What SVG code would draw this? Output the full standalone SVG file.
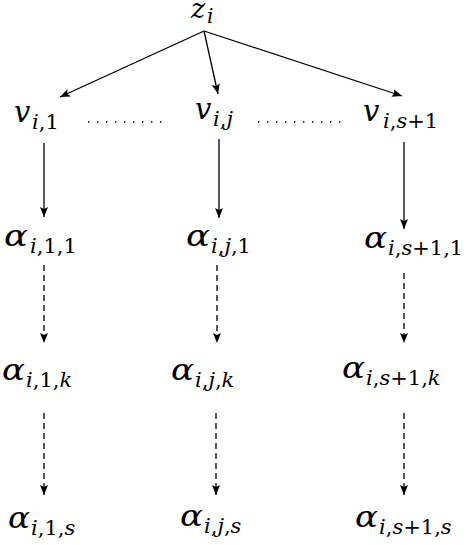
<svg xmlns="http://www.w3.org/2000/svg" width="474" height="545" viewBox="0 0 474 545">
<defs>
<style>
.c{stroke:#000;stroke-width:1.3;fill:none}
.d{stroke-dasharray:6 4}
.dots{stroke:#000;stroke-width:1.4;stroke-dasharray:1.4 7.6;fill:none}
</style>
<marker id="ah" viewBox="0 0 10 8" refX="10" refY="4" markerWidth="10" markerHeight="8" markerUnits="userSpaceOnUse" orient="auto">
<path d="M0,0 L10,4 L0,8 L2,4 Z" fill="#000" stroke="none"/>
</marker>
</defs>
<rect width="474" height="545" fill="#fff"/>
<g id="connectors">
<path class="c" d="M204,31 L60,97" marker-end="url(#ah)"/>
<path class="c" d="M204,31 L218,94" marker-end="url(#ah)"/>
<path class="c" d="M204,31 L402,96" marker-end="url(#ah)"/>
<path class="c" d="M44,143 L44,217" marker-end="url(#ah)"/>
<path class="c" d="M219,139 L219,218" marker-end="url(#ah)"/>
<path class="c" d="M404,142 L404,229" marker-end="url(#ah)"/>
<path class="c d" d="M44,265 L44,343" marker-end="url(#ah)"/>
<path class="c d" d="M217,265 L217,343" marker-end="url(#ah)"/>
<path class="c d" d="M404,273 L404,343" marker-end="url(#ah)"/>
<path class="c d" d="M44,413 L44,495" marker-end="url(#ah)"/>
<path class="c d" d="M216,413 L216,495" marker-end="url(#ah)"/>
<path class="c d" d="M404,413 L404,495" marker-end="url(#ah)"/>
<path class="dots" d="M88,122 L168,122"/>
<path class="dots" d="M258,122 L348,122"/>
</g>
<g font-family="DejaVu Serif, Liberation Serif, serif" fill="#000">
<g id="z_i">
<text font-size="27" font-style="italic" x="191" y="18">z</text>
<text font-size="20" font-style="italic" x="207" y="23">i</text>
</g>
<g id="v_i1">
<text font-size="29" font-style="italic" x="14" y="122">v</text>
<text font-size="21" x="32" y="129"><tspan font-style="italic">i</tspan>,1</text>
</g>
<g id="v_ij">
<text font-size="29" font-style="italic" x="195" y="119">v</text>
<text font-size="21" x="213" y="126"><tspan font-style="italic">i</tspan>,<tspan font-style="italic">j</tspan></text>
</g>
<g id="v_is1">
<text font-size="29" font-style="italic" x="363" y="121">v</text>
<text font-size="21" x="383" y="128"><tspan font-style="italic">i</tspan>,<tspan font-style="italic">s</tspan>+1</text>
</g>
<g id="a_i11">
<text font-size="29" font-style="italic" x="4" y="246" textLength="24" lengthAdjust="spacingAndGlyphs">α</text>
<text font-size="21" x="30" y="253"><tspan font-style="italic">i</tspan>,1,1</text>
</g>
<g id="a_ij1">
<text font-size="29" font-style="italic" x="186" y="246" textLength="24" lengthAdjust="spacingAndGlyphs">α</text>
<text font-size="21" x="211" y="253"><tspan font-style="italic">i</tspan>,<tspan font-style="italic">j</tspan>,1</text>
</g>
<g id="a_is11">
<text font-size="29" font-style="italic" x="364" y="248" textLength="23" lengthAdjust="spacingAndGlyphs">α</text>
<text font-size="21" x="388" y="255"><tspan font-style="italic">i</tspan>,<tspan font-style="italic">s</tspan>+1,1</text>
</g>
<g id="a_i1k">
<text font-size="29" font-style="italic" x="2" y="380" textLength="23" lengthAdjust="spacingAndGlyphs">α</text>
<text font-size="21" x="26" y="387"><tspan font-style="italic">i</tspan>,1,<tspan font-style="italic">k</tspan></text>
</g>
<g id="a_ijk">
<text font-size="29" font-style="italic" x="171" y="380" textLength="23" lengthAdjust="spacingAndGlyphs">α</text>
<text font-size="21" x="195" y="387"><tspan font-style="italic">i</tspan>,<tspan font-style="italic">j</tspan>,<tspan font-style="italic">k</tspan></text>
</g>
<g id="a_is1k">
<text font-size="29" font-style="italic" x="342" y="378" textLength="23" lengthAdjust="spacingAndGlyphs">α</text>
<text font-size="21" x="366" y="385"><tspan font-style="italic">i</tspan>,<tspan font-style="italic">s</tspan>+1,<tspan font-style="italic">k</tspan></text>
</g>
<g id="a_i1s">
<text font-size="29" font-style="italic" x="8" y="528" textLength="22" lengthAdjust="spacingAndGlyphs">α</text>
<text font-size="21" x="31" y="535"><tspan font-style="italic">i</tspan>,1,<tspan font-style="italic">s</tspan></text>
</g>
<g id="a_ijs">
<text font-size="29" font-style="italic" x="180" y="526" textLength="23" lengthAdjust="spacingAndGlyphs">α</text>
<text font-size="21" x="204" y="533"><tspan font-style="italic">i</tspan>,<tspan font-style="italic">j</tspan>,<tspan font-style="italic">s</tspan></text>
</g>
<g id="a_is1s">
<text font-size="29" font-style="italic" x="355" y="527" textLength="23" lengthAdjust="spacingAndGlyphs">α</text>
<text font-size="21" x="379" y="534"><tspan font-style="italic">i</tspan>,<tspan font-style="italic">s</tspan>+1,<tspan font-style="italic">s</tspan></text>
</g>
</g>
</svg>
